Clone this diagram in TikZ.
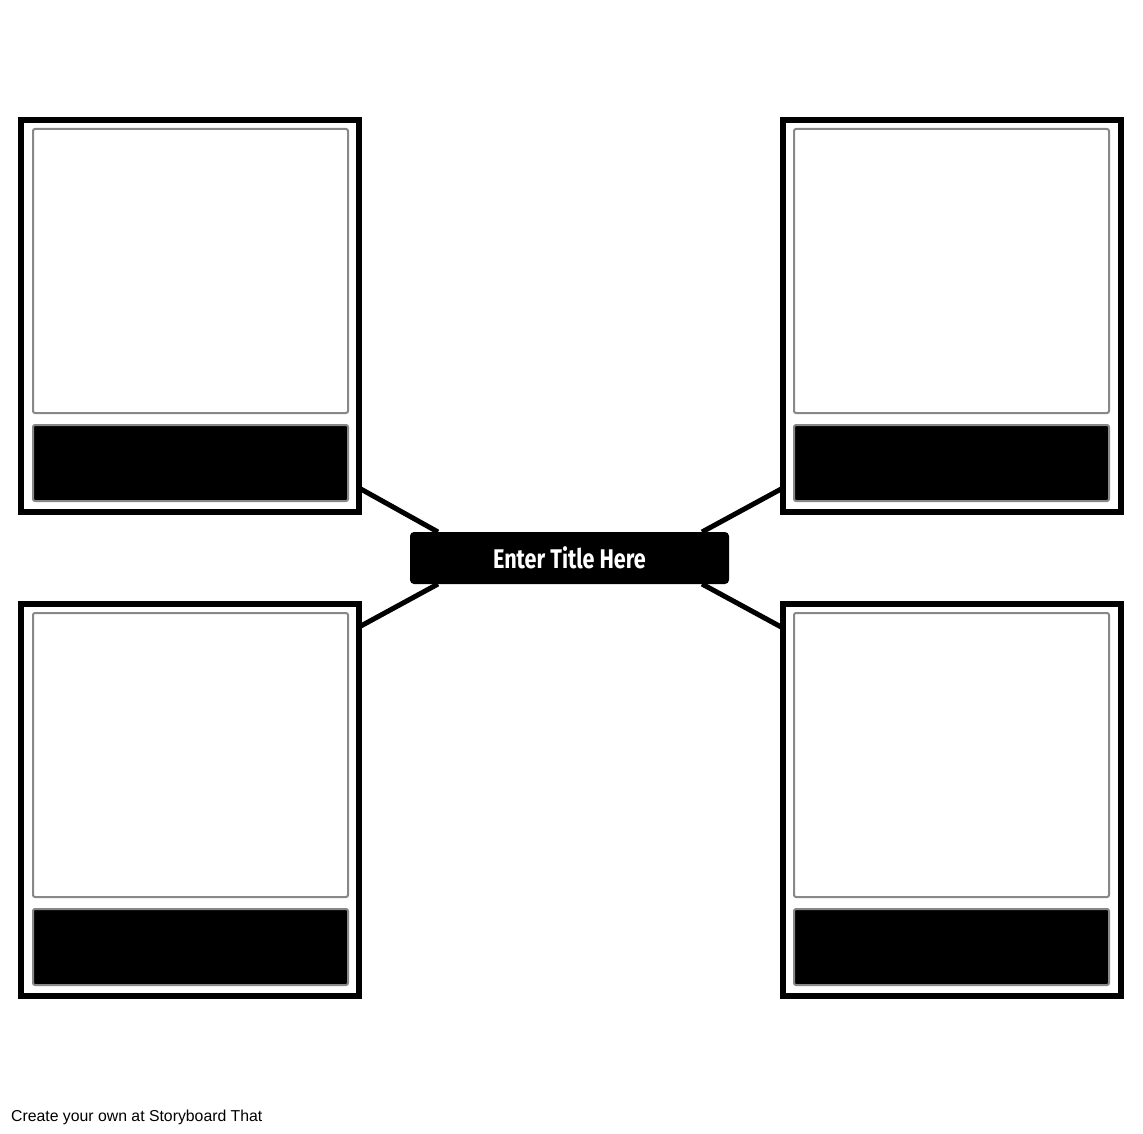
\documentclass[tikz,border=0pt]{standalone}
\usepackage{fontspec}
\setmainfont{Liberation Sans}
\newfontfamily\titlefont[FakeStretch=0.8]{Fira Sans}
\usepackage{xcolor}
\usetikzlibrary{positioning}
\definecolor{boxgray}{RGB}{136,136,136}
\tikzset{
    panel/.style = {draw=black, line width=6pt, minimum width=338pt, minimum height=392pt, inner sep=0pt, outer sep=0pt, anchor=north west},
    picbox/.style = {draw=boxgray, fill=white, line width=2pt, rounded corners=2pt, minimum width=315pt, minimum height=284pt, inner sep=0pt, outer sep=0pt, anchor=north west},
    capbox/.style = {picbox, fill=black, minimum height=76pt},
    title_node/.style = {fill=black, rounded corners=4pt, minimum width=319pt, minimum height=52pt, inner sep=0pt, outer sep=0pt, text=white, font=\titlefont\bfseries\fontsize{27}{27}\selectfont},
    link/.style = {draw=black, line width=5pt}
}
\begin{document}
\begin{tikzpicture}[x=1pt,y=-1pt]
    \fill[white] (0,0) rectangle (1143,1134);
    \useasboundingbox (0,0) rectangle (1143,1134);
    % panels
    \node [panel] (tl) at (21,120) {};
    \node [panel] (tr) at (783,120) {};
    \node [panel] (bl) at (21,604) {};
    \node [panel] (br) at (783,604) {};
    % title
    \node [title_node] (title) at (569.5,558) {Enter Title Here};
    % links
    \begin{scope}[on background layer/.try]
    \draw [link] ([yshift=24pt]tl.south east) -- ([xshift=28pt]title.north west);
    \draw [link] ([yshift=24pt]tr.south west) -- ([xshift=-27pt]title.north east);
    \draw [link] ([yshift=-23pt]bl.north east) -- ([xshift=28pt]title.south west);
    \draw [link] ([yshift=-24pt]br.north west) -- ([xshift=-27pt]title.south east);
    \end{scope}
    % boxes inside the panels
    \node [picbox] (tl_pic) at (33,129) {};
    \node [capbox] (tl_cap) at (33,425) {};
    \node [picbox] (tr_pic) at (794,129) {};
    \node [capbox] (tr_cap) at (794,425) {};
    \node [picbox] (bl_pic) at (33,613) {};
    \node [capbox] (bl_cap) at (33,909) {};
    \node [picbox] (br_pic) at (794,613) {};
    \node [capbox] (br_cap) at (794,909) {};
    % credit
    \node [anchor=base west, inner sep=0pt, font=\fontsize{15.8}{16}\selectfont] (credit) at (11,1121) {Create your own at Storyboard That};
\end{tikzpicture}
\end{document}
